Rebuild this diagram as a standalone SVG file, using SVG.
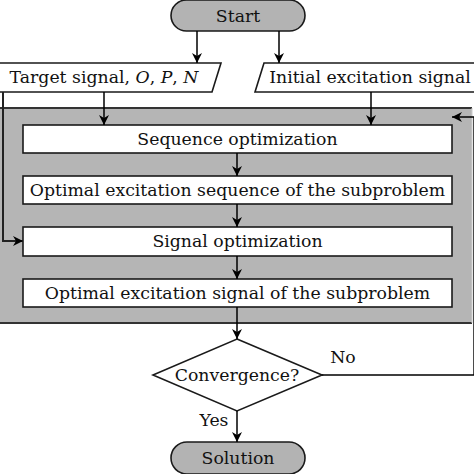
<svg xmlns="http://www.w3.org/2000/svg" width="474" height="474" viewBox="0 0 474 474">
<defs>
<marker id="ah" viewBox="0 0 10 10" refX="10" refY="5" markerWidth="10" markerHeight="10" markerUnits="userSpaceOnUse" orient="auto">
<path d="M0,0 L10,5 L0,10 L3,5 Z" fill="#000"/>
</marker>
<style>
text{font-family:"DejaVu Serif","Liberation Serif",serif;font-size:17.3px;fill:#111;text-anchor:middle;dominant-baseline:central}
.box{fill:#fff;stroke:#1a1a1a;stroke-width:1.6}
.term{fill:#b3b3b3;stroke:#1a1a1a;stroke-width:1.6}
.ln{fill:none;stroke:#333;stroke-width:2}
.arr{fill:none;stroke:#000;stroke-width:1.5;marker-end:url(#ah)}
</style>
</defs>
<rect width="474" height="474" fill="#fff"/>
<g id="container">
<rect x="0" y="108" width="472" height="215" fill="#b5b5b5"/>
<path class="ln" d="M0,108 H472 M0,323 H472"/>
<path d="M472,108 V323" stroke="#ccc" stroke-width="1"/>
</g>
<g id="start"><rect class="term" x="171" y="0" width="134" height="31" rx="15.5"/><text x="238" y="16">Start</text></g>
<g id="target"><path class="box" d="M-5,63 L221,63 L212,92 L-5,92 Z"/><text x="104" y="77">Target signal, <tspan font-style="italic">O</tspan>, <tspan font-style="italic">P</tspan>, <tspan font-style="italic">N</tspan></text></g>
<g id="initial"><path class="box" d="M264,63 L480,63 L480,92 L255,92 Z"/><text x="370" y="77">Initial excitation signal</text></g>
<g id="seqopt"><rect class="box" x="23" y="125" width="429" height="28"/><text x="237.5" y="139">Sequence optimization</text></g>
<g id="optseq"><rect class="box" x="23" y="176" width="429" height="28"/><text x="237.5" y="190">Optimal excitation sequence of the subproblem</text></g>
<g id="sigopt"><rect class="box" x="23" y="227" width="429" height="29"/><text x="237.5" y="241">Signal optimization</text></g>
<g id="optsig"><rect class="box" x="23" y="279" width="429" height="28"/><text x="237.5" y="293">Optimal excitation signal of the subproblem</text></g>
<g id="conv"><path class="box" d="M237,339 L322,375 L237,411 L153,375 Z"/><text x="237" y="375">Convergence?</text></g>
<g id="solution"><rect class="term" x="171" y="442" width="134" height="32" rx="16"/><text x="238" y="458">Solution</text></g>
<g id="connectors">
<path class="arr" d="M197,31 V63"/>
<path class="arr" d="M279,31 V63"/>
<path class="arr" d="M104,92 V125"/>
<path class="arr" d="M371,92 V125"/>
<path class="arr" d="M237,153 V176"/>
<path class="arr" d="M237,204 V227"/>
<path class="arr" d="M237,256 V279"/>
<path class="arr" d="M237,307 V339"/>
<path class="arr" d="M237,411 V442"/>
<path class="arr" d="M3,92 V241 H23" style="stroke:#222;stroke-width:2"/>
<path class="arr" d="M322,375 H474 V117 H452" style="stroke-width:1.4"/>
<text x="343" y="357">No</text>
<text x="214" y="420">Yes</text>
</g>
</svg>
